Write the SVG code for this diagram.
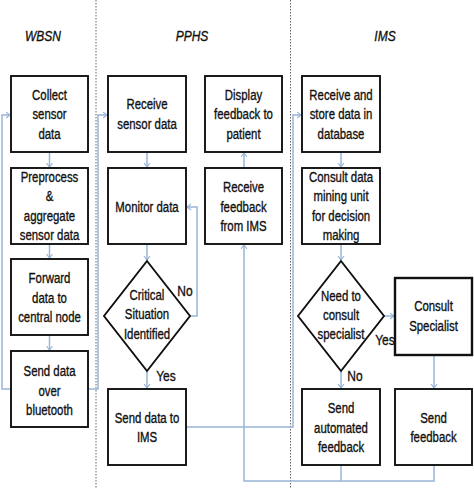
<svg xmlns="http://www.w3.org/2000/svg" width="474" height="488" viewBox="0 0 474 488">
<defs>
<style>
.box{fill:#fff;stroke:#111;stroke-width:1.9}
.thick{stroke-width:2.4}
.t{font-family:"Liberation Sans",Arial,sans-serif;font-size:15px;fill:#111;stroke:#111;stroke-width:0.35;text-anchor:middle}
.h{font-style:italic}
.c{fill:none;stroke:#98b4d6;stroke-width:1.5}
.sep{stroke:#666;stroke-width:1;stroke-dasharray:1.5 1.5}
</style>
<marker id="ah" markerWidth="8" markerHeight="8" refX="4.5" refY="3.5" orient="auto" markerUnits="userSpaceOnUse">
<path d="M0.5,0.5 L4.5,3.5 L0.5,6.5" fill="none" stroke="#98b4d6" stroke-width="1.1"/>
</marker>
</defs>
<rect width="474" height="488" fill="#fff"/>

<g id="separators">
<line class="sep" x1="96" y1="0" x2="96" y2="488" stroke="#999"/>
<line class="sep" x1="290.5" y1="0" x2="290.5" y2="488"/>
</g>

<g id="headers">
<text class="t h" transform="translate(43,0) scale(0.8,1)" x="0" y="41">WBSN</text>
<text class="t h" transform="translate(192,0) scale(0.8,1)" x="0" y="41">PPHS</text>
<text class="t h" transform="translate(385,0) scale(0.8,1)" x="0" y="41">IMS</text>
</g>

<g id="connectors">
<path class="c" d="M49.5,152 V167" marker-end="url(#ah)"/>
<path class="c" d="M49.5,244 V258" marker-end="url(#ah)"/>
<path class="c" d="M49.5,335 V350" marker-end="url(#ah)"/>
<path class="c" d="M11,389 H2 V115 H10" marker-end="url(#ah)"/>
<path class="c" d="M88,389 H98 V115 H107" marker-end="url(#ah)"/>
<path class="c" d="M147,152 V167" marker-end="url(#ah)"/>
<path class="c" d="M147,244 V260" marker-end="url(#ah)"/>
<path class="c" d="M190,316 H197 V207 H187" marker-end="url(#ah)"/>
<path class="c" d="M147,371 V388" marker-end="url(#ah)"/>
<path class="c" d="M186,427 H293 V115 H301" marker-end="url(#ah)"/>
<path class="c" d="M341,152 V167" marker-end="url(#ah)"/>
<path class="c" d="M341,244 V260" marker-end="url(#ah)"/>
<path class="c" d="M384,316 H394" marker-end="url(#ah)"/>
<path class="c" d="M341,371 V388" marker-end="url(#ah)"/>
<path class="c" d="M434,355 V388" marker-end="url(#ah)"/>
<path class="c" d="M341,465 V481"/>
<path class="c" d="M434,465 V481 H244 V245" marker-end="url(#ah)"/>
<path class="c" d="M244,168 V153" marker-end="url(#ah)"/>
</g>

<g id="labels">
<text class="t" transform="translate(185,0) scale(0.8,1)" x="0" y="296">No</text>
<text class="t" transform="translate(166,0) scale(0.8,1)" x="0" y="381">Yes</text>
<text class="t" transform="translate(385,0) scale(0.8,1)" x="0" y="345">Yes</text>
<text class="t" transform="translate(355,0) scale(0.8,1)" x="0" y="381">No</text>
</g>

<g id="collect">
<rect class="box" x="11" y="76" width="77" height="76"/>
<text class="t" transform="translate(49.5,0) scale(0.76,1)"><tspan x="0" y="100">Collect</tspan><tspan x="0" y="119.5">sensor</tspan><tspan x="0" y="139">data</tspan></text>
</g>
<g id="preprocess">
<rect class="box" x="11" y="168" width="77" height="76"/>
<text class="t" transform="translate(49.5,0) scale(0.76,1)"><tspan x="0" y="182">Preprocess</tspan><tspan x="0" y="201.5">&amp;</tspan><tspan x="0" y="221">aggregate</tspan><tspan x="0" y="240.5">sensor data</tspan></text>
</g>
<g id="forward">
<rect class="box" x="11" y="259" width="77" height="76"/>
<text class="t" transform="translate(49.5,0) scale(0.76,1)"><tspan x="0" y="283">Forward</tspan><tspan x="0" y="303">data to</tspan><tspan x="0" y="322">central node</tspan></text>
</g>
<g id="bluetooth">
<rect class="box" x="11" y="351" width="77" height="76"/>
<text class="t" transform="translate(49.5,0) scale(0.76,1)"><tspan x="0" y="376">Send data</tspan><tspan x="0" y="396">over</tspan><tspan x="0" y="415">bluetooth</tspan></text>
</g>
<g id="receive-sensor">
<rect class="box" x="108" y="76" width="78" height="76"/>
<text class="t" transform="translate(147,0) scale(0.76,1)"><tspan x="0" y="109.5">Receive</tspan><tspan x="0" y="129">sensor data</tspan></text>
</g>
<g id="monitor">
<rect class="box" x="108" y="168" width="78" height="76"/>
<text class="t" transform="translate(147,0) scale(0.76,1)"><tspan x="0" y="212">Monitor data</tspan></text>
</g>
<g id="critical">
<polygon class="box" points="147,261 190,316 147,371 104,316"/>
<text class="t" transform="translate(147,0) scale(0.76,1)"><tspan x="0" y="300">Critical</tspan><tspan x="0" y="319.5">Situation</tspan><tspan x="0" y="339">Identified</tspan></text>
</g>
<g id="send-ims">
<rect class="box" x="108" y="389" width="78" height="76"/>
<text class="t" transform="translate(147,0) scale(0.76,1)"><tspan x="0" y="423">Send data to</tspan><tspan x="0" y="442">IMS</tspan></text>
</g>
<g id="display">
<rect class="box" x="205" y="76" width="77" height="76"/>
<text class="t" transform="translate(243.5,0) scale(0.76,1)"><tspan x="0" y="100">Display</tspan><tspan x="0" y="119.5">feedback to</tspan><tspan x="0" y="139">patient</tspan></text>
</g>
<g id="receive-feedback">
<rect class="box" x="205" y="168" width="77" height="76"/>
<text class="t" transform="translate(243.5,0) scale(0.76,1)"><tspan x="0" y="192">Receive</tspan><tspan x="0" y="212">feedback</tspan><tspan x="0" y="231">from IMS</tspan></text>
</g>
<g id="receive-store">
<rect class="box" x="302" y="76" width="78" height="76"/>
<text class="t" transform="translate(341,0) scale(0.76,1)"><tspan x="0" y="100">Receive and</tspan><tspan x="0" y="119.5">store data in</tspan><tspan x="0" y="139">database</tspan></text>
</g>
<g id="consult-data">
<rect class="box" x="302" y="168" width="78" height="76"/>
<text class="t" transform="translate(341,0) scale(0.76,1)"><tspan x="0" y="182">Consult data</tspan><tspan x="0" y="201.5">mining unit</tspan><tspan x="0" y="221">for decision</tspan><tspan x="0" y="240.5">making</tspan></text>
</g>
<g id="need-consult">
<polygon class="box" points="341,261 384,316 341,371 298,316"/>
<text class="t" transform="translate(341,0) scale(0.76,1)"><tspan x="0" y="301">Need to</tspan><tspan x="0" y="320">consult</tspan><tspan x="0" y="339">specialist</tspan></text>
</g>
<g id="consult-specialist">
<rect class="box thick" x="395" y="278" width="77" height="77"/>
<text class="t" transform="translate(433.5,0) scale(0.76,1)"><tspan x="0" y="311">Consult</tspan><tspan x="0" y="331">Specialist</tspan></text>
</g>
<g id="send-automated">
<rect class="box" x="302" y="389" width="78" height="76"/>
<text class="t" transform="translate(341,0) scale(0.76,1)"><tspan x="0" y="413">Send</tspan><tspan x="0" y="433">automated</tspan><tspan x="0" y="452">feedback</tspan></text>
</g>
<g id="send-feedback">
<rect class="box" x="395" y="389" width="77" height="76"/>
<text class="t" transform="translate(433.5,0) scale(0.76,1)"><tspan x="0" y="423">Send</tspan><tspan x="0" y="442">feedback</tspan></text>
</g>
</svg>
